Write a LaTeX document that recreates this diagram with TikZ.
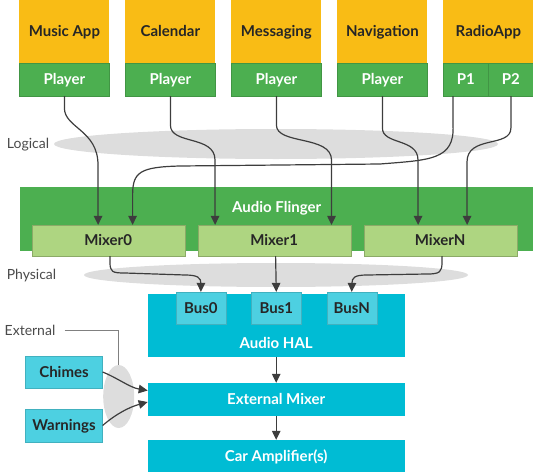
\documentclass[tikz,border=0pt]{standalone}
\usepackage{fontspec}
\setmainfont{Lato}
\usetikzlibrary{arrows.meta,positioning,shapes.geometric}
\definecolor{appyellow}{HTML}{F9BC15}
\definecolor{playgreen}{HTML}{4CAF50}
\definecolor{mixgreen}{HTML}{AED581}
\definecolor{haltea}{HTML}{00BCD4}
\definecolor{bustea}{HTML}{4DD0E1}
\definecolor{ovalgray}{HTML}{DDDDDD}
\definecolor{wiregray}{HTML}{3D3D3D}
\definecolor{labgray}{HTML}{4A4A4A}
\newcommand{\boxfont}{\fontsize{15}{17}\selectfont\bfseries}
\tikzset{
    boxtext/.style={
           inner sep=0pt,
           text height=10.6pt, text depth=0pt,
           font=\boxfont
           },
    app/.style={
           rectangle, fill=appyellow, boxtext,
           minimum width=90, minimum height=63,
           text=black!85
           },
    player/.style={
           rectangle, fill=playgreen, boxtext,
           draw=playgreen!85!black, very thin,
           minimum width=90, minimum height=33,
           text=white
           },
    mixer/.style={
           rectangle, fill=mixgreen, boxtext,
           draw=mixgreen!80!black, very thin,
           minimum width=153, minimum height=31,
           text=black!85
           },
    bus/.style={
           rectangle, fill=bustea, boxtext,
           draw=bustea!85!black, very thin,
           minimum width=50, minimum height=32,
           text=black!85
           },
    halbox/.style={
           rectangle, fill=haltea, boxtext,
           minimum width=256.6,
           text=white
           },
    whitelab/.style={
           boxtext, text=white
           },
    oval/.style={
           ellipse, fill=ovalgray,
           inner sep=0pt
           },
    tag/.style={
           inner sep=2pt,
           font=\fontsize{14}{16}\selectfont, text=labgray
           },
    flow/.style={
           ->, draw=wiregray, line width=1.2pt
           },
    extline/.style={
           draw=gray, line width=1pt
           }
}

\begin{document}
\begin{tikzpicture}[x=1pt, y=-1pt, >={Triangle[length=9pt,width=8.5pt]}, node distance=106pt, on grid]
\useasboundingbox (0,0) rectangle (533,474);
% grey bands
\node[oval, minimum width=444, minimum height=30] (logic) at (276,144) {};
\node[oval, minimum width=384, minimum height=24] (phys) at (276,275) {};
\node[oval, minimum width=31, minimum height=63] (extoval) at (118.7,396.5) {};
\node[tag] (logictag) at (28,145) {Logical};
\node[tag] (phystag) at (31.5,276) {Physical};
\node[tag] (exttag) at (30,330) {External};

% apps and players
\node[app] (music) at (64.4,31.5) {Music App};
\node[app] (cal) [right=of music] {Calendar};
\node[app] (msg) [right=of cal] {Messaging};
\node[app] (nav) [right=of msg] {Navigation};
\node[app] (radio) [right=of nav] {RadioApp};
\node[player] (pmusic) [below=48pt of music] {Player};
\node[player] (pcal) [below=48pt of cal] {Player};
\node[player] (pmsg) [below=48pt of msg] {Player};
\node[player] (pnav) [below=48pt of nav] {Player};
\node[player, minimum width=45] (p1) [below left=48pt and 22.5pt of radio] {P1};
\node[player, minimum width=45] (p2) [below right=48pt and 22.5pt of radio] {P2};

% audio flinger
\node[rectangle, fill=playgreen, minimum width=512.6, minimum height=64] (flinger) at (276.7,218.7) {};
\node[whitelab] (flingerlab) [below=15.3pt of flinger.north] {Audio Flinger};
\node[mixer] (mix0) at (108.1,240.5) {Mixer0};
\node[mixer] (mix1) [right=166pt of mix0] {Mixer1};
\node[mixer] (mixN) [right=166pt of mix1] {MixerN};

% hal and below
\node[halbox, minimum height=62.7] (hal) at (276.2,325.6) {};
\node[whitelab] (hallab) at (276.2,343) {Audio HAL};
\node[bus] (bus0) at (200.9,308) {Bus0};
\node[bus] (bus1) [right=75.4pt of bus0] {Bus1};
\node[bus] (busN) [right=75.4pt of bus1] {BusN};
\node[halbox, minimum height=33] (extmix) at (276.2,399.5) {External Mixer};
\node[halbox, minimum height=32] (car) at (276.2,456) {Car Amplifier(s)};
\node[bus, minimum width=77] (chimes) at (64,372) {Chimes};
\node[bus, minimum width=77, minimum height=33] (warn) at (64,425.5) {Warnings};

% logical routing
\draw[flow] (pmusic.south) -- (64.4,108) .. controls (64.4,128) and (98,130) .. (98,165) -- ([xshift=-10]mix0.north);
\draw[flow] (pcal.south) -- (170.4,125) .. controls (170.4,145) and (215,135) .. (215,160) -- ([xshift=-59]mix1.north);
\draw[flow] (pmsg.south) -- (276.4,125) .. controls (276.4,145) and (331.5,135) .. (331.5,160) -- ([xshift=57.4]mix1.north);
\draw[flow] (pnav.south) -- (382.4,128) .. controls (382.4,145) and (418,138) .. (418,160) -- ([xshift=-22]mixN.north);
\draw[flow] (p2.south) -- (510.9,128) .. controls (510.9,148) and (467,135) .. (467,162) -- ([xshift=27]mixN.north);
\draw[flow] ([xshift=-13]p1.south) -- (453,125) .. controls (455,160) and (430,160) .. (380,164) -- (180,166) .. controls (140,167) and (132.6,172) .. (132.6,195) -- ([xshift=24.5]mix0.north);

% physical routing
\draw[flow] ([xshift=2]mix0.south) -- (110,262) .. controls (110,272) and (112,273) .. (125,273) -- (185,275) .. controls (198,275) and (200.9,278) .. (bus0.north);
\draw[flow] ([xshift=1.5]mix1.south) -- (bus1.north);
\draw[flow] ([xshift=2]mixN.south) -- (442,262) .. controls (442,272) and (440,274) .. (427,274) -- (367,275) .. controls (354,275) and (352.1,278) .. (busN.north);
\draw[flow] (hal.south) -- (extmix.north);
\draw[flow] (extmix.south) -- (car.north);

% external sources
\draw[extline, shorten <=7pt] (exttag.east) -| (extoval.north);
\draw[flow] (chimes.east) .. controls +(15,6) and +(-18,-3) .. ([yshift=9]extmix.west);
\draw[flow] (warn.east) .. controls +(14,-12) and +(-18,5) .. ([yshift=-2.5]extmix.west);
\end{tikzpicture}
\end{document}
